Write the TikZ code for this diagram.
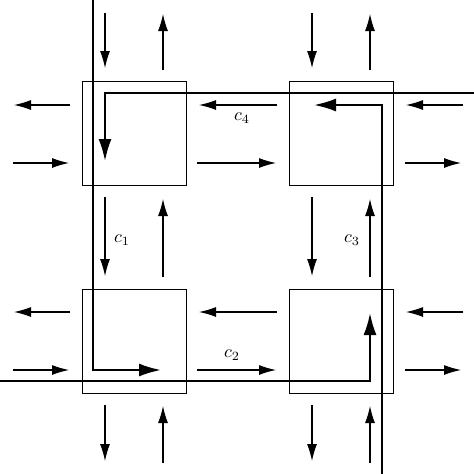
\documentclass[tikz,border=0pt]{standalone}
\usetikzlibrary{arrows.meta}
\begin{document}
\begin{tikzpicture}[x=1pt,y=-1pt,
  cell/.style={draw,line width=0.9pt,minimum size=104pt,inner sep=0pt},
  flow/.style={line width=1.1pt,-{Latex[length=17pt,width=10pt]}},
  route/.style={line width=2.2pt,-{Latex[length=22pt,width=13pt]}},
  lab/.style={scale=1.8,inner sep=0pt}]
\useasboundingbox (0,0) rectangle (474,474);
% boxes
\node[cell] (b11) at (134,133) {};
\node[cell] (b12) at (341,133) {};
\node[cell] (b21) at (134,341) {};
\node[cell] (b22) at (341,341) {};
% thin flow arrows
\foreach \x in {105,312} {
  \draw[flow] (\x,13) -- (\x,68);
  \draw[flow] (\x,197) -- (\x,276);
  \draw[flow] (\x,405) -- (\x,461);
}
\foreach \x in {163,370} {
  \draw[flow] (\x,70) -- (\x,14);
  \draw[flow] (\x,277) -- (\x,199);
  \draw[flow] (\x,463) -- (\x,406);
}
\foreach \y in {105,312} {
  \draw[flow] (70,\y) -- (14,\y);
  \draw[flow] (277,\y) -- (199,\y);
  \draw[flow] (463,\y) -- (406,\y);
}
\foreach \y in {163,370} {
  \draw[flow] (13,\y) -- (69,\y);
  \draw[flow] (197,\y) -- (276,\y);
  \draw[flow] (405,\y) -- (461,\y);
}
% routes
\coordinate (s1) at (93,0);   \coordinate (k1) at (93,370);  \coordinate (e1) at (161,370);
\coordinate (s2) at (0,381);  \coordinate (k2) at (370,381); \coordinate (e2) at (370,313);
\coordinate (s3) at (382,474);\coordinate (k3) at (382,105); \coordinate (e3) at (314,105);
\coordinate (s4) at (474,93); \coordinate (k4) at (105,93);  \coordinate (e4) at (105,161);
\draw[route] (s1) -- (k1) -- (e1);
\draw[route] (s2) -- (k2) -- (e2);
\draw[route] (s3) -- (k3) -- (e3);
\draw[route] (s4) -- (k4) -- (e4);
% labels
\node[lab] (l1) at (122,240) {$c_1$};
\node[lab] (l2) at (232,355) {$c_2$};
\node[lab] (l3) at (352,240) {$c_3$};
\node[lab] (l4) at (242,118) {$c_4$};
\end{tikzpicture}
\end{document}
